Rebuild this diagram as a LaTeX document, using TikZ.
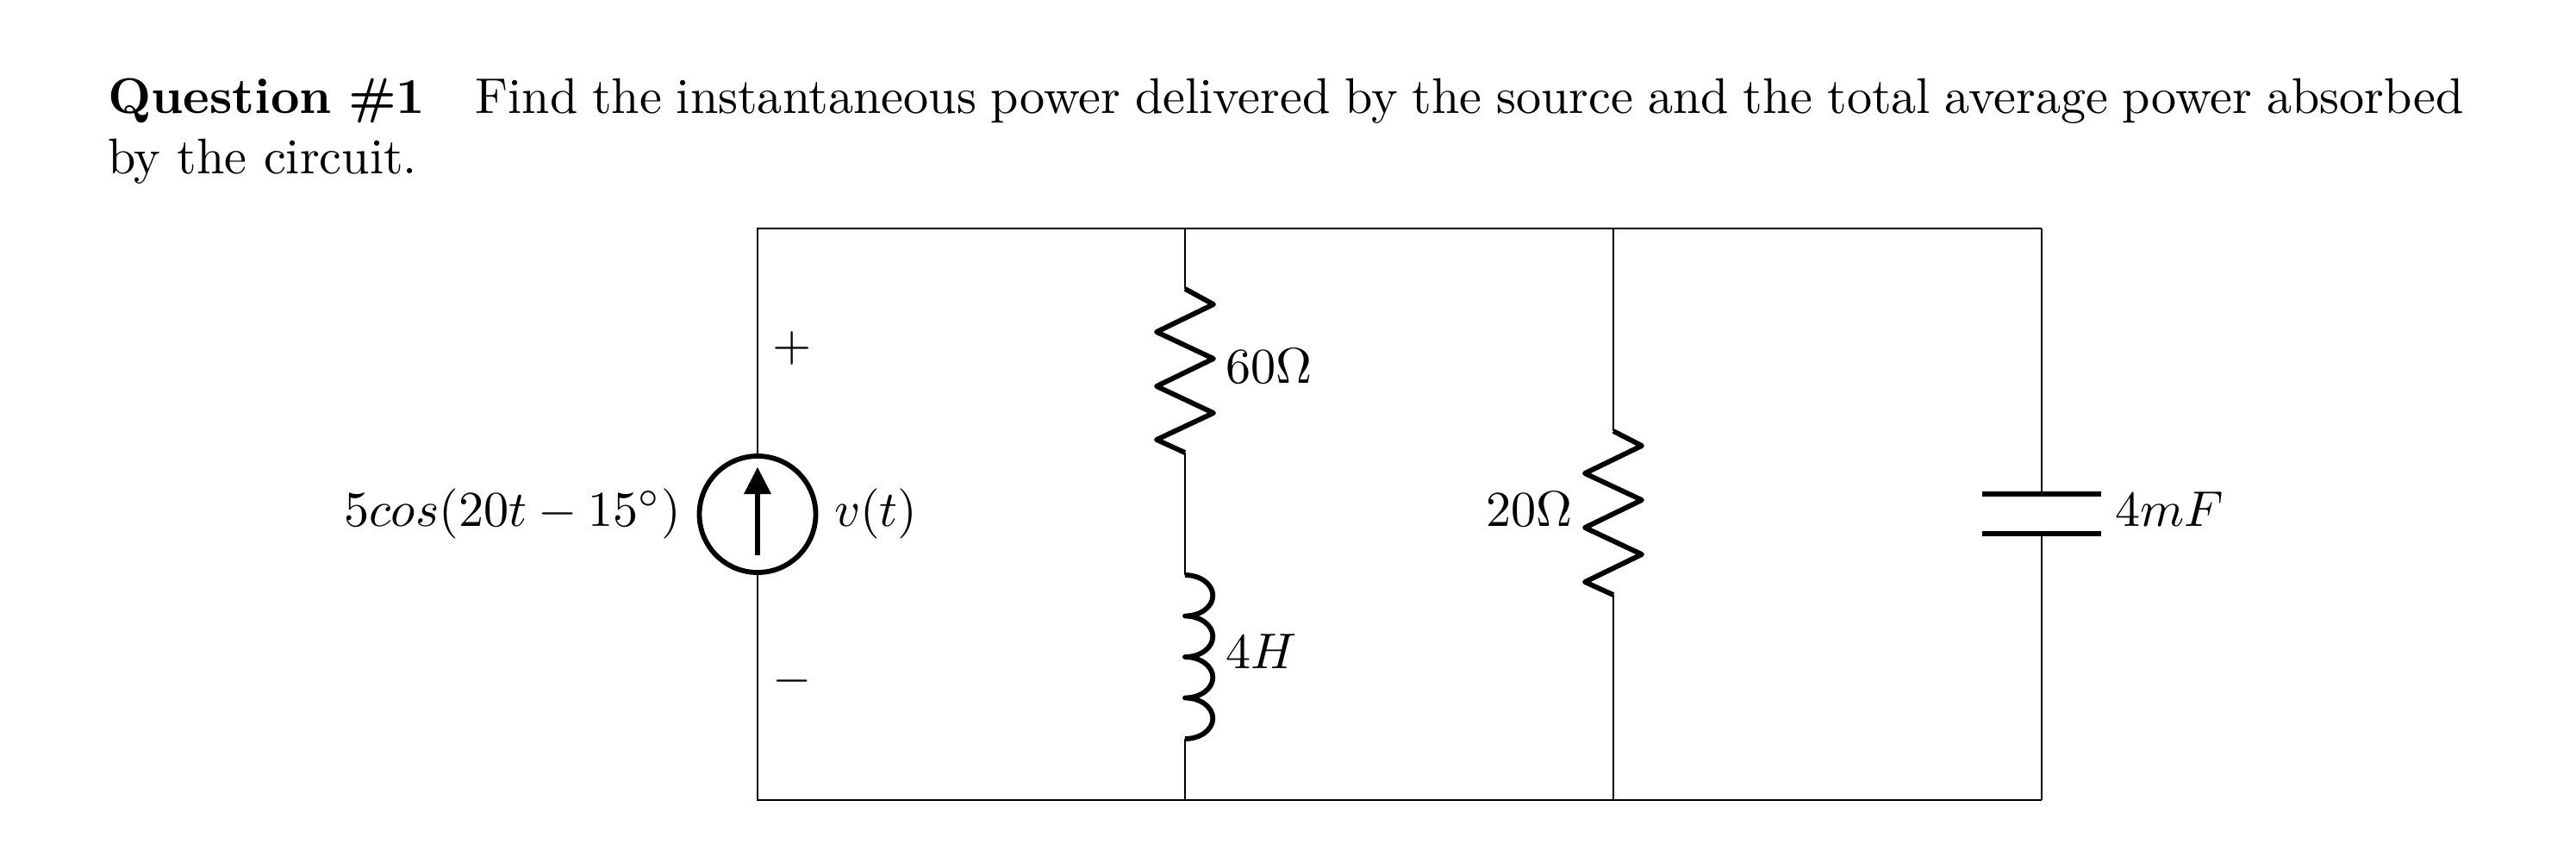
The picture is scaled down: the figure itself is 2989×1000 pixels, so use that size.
\documentclass[tikz,border=0pt]{standalone}
\tikzset{
  px/.style={x=0.17183pt,y=-0.17183pt},
  wire/.style={line width=0.4pt},
  part/.style={line width=1pt,line join=round},
  lab/.style={inner sep=0pt,outer sep=0pt,font=\fontsize{10}{12}\selectfont},
  para/.style={lab,anchor=north west,align=justify,text width=469.75pt},
  plate/.style={line width=0.95pt},
  srcbody/.style={circle,draw,line width=1pt,inner sep=0pt,minimum size=23.2pt},
  srcshaft/.style={line width=1pt}
}
\begin{document}
\begin{tikzpicture}[px]
\useasboundingbox (0,0) rectangle (2989,1000);
\node[para] (q) at (125,90.6) {\textbf{Question \#1}\quad Find the instantaneous power delivered by the source and the total average power absorbed by the circuit.};

% corners and junctions
\coordinate (tl) at (879,265);
\coordinate (ta) at (1375,265);
\coordinate (tb) at (1872,265);
\coordinate (tr) at (2369,265);
\coordinate (bl) at (879,928);
\coordinate (ba) at (1375,928);
\coordinate (bb) at (1872,928);
\coordinate (br) at (2369,928);

% source
\node[srcbody] (src) at (879,596.5) {};
\coordinate (arrowtail) at (879,644);
\coordinate (arrowbase) at (879,572);
\coordinate (arrowtip) at (879,542);
\draw[srcshaft] (arrowtail) -- (arrowbase);
\fill (arrowtip) -- ++(-16,31) -- ++(32,0) -- cycle;
\draw[wire] (src.north) -- (tl) -- (ta) -- (tb) -- (tr);
\draw[wire] (src.south) -- (bl) -- (ba) -- (bb) -- (br);

% 60 ohm
\coordinate (ra1) at (1375,335);
\coordinate (ra2) at (1375,525);
\draw[wire] (ta) -- (ra1);
\draw[part] (ra1) -- ++(33,18) -- ++(-66,32) -- ++(66,31) -- ++(-66,32) -- ++(66,31) -- ++(-66,31) -- (ra2);

% 4 H
\coordinate (la1) at (1375,667);
\coordinate (la2) at (1375,857);
\draw[wire] (ra2) -- (la1);
\draw[part] (la1)
  arc[start angle=90,end angle=-90,x radius=5.55pt,y radius=4.08pt]
  arc[start angle=90,end angle=-90,x radius=5.55pt,y radius=4.08pt]
  arc[start angle=90,end angle=-90,x radius=5.55pt,y radius=4.08pt]
  arc[start angle=90,end angle=-90,x radius=5.55pt,y radius=4.08pt];
\draw[wire] (la2) -- (ba);

% 20 ohm
\coordinate (rb1) at (1872,500);
\coordinate (rb2) at (1872,690);
\draw[wire] (tb) -- (rb1);
\draw[part] (rb1) -- ++(33,17) -- ++(-66,32) -- ++(66,31) -- ++(-66,32) -- ++(66,31) -- ++(-66,32) -- (rb2);
\draw[wire] (rb2) -- (bb);

% 4 mF
\coordinate (c1) at (2369,573);
\coordinate (c2) at (2369,619);
\coordinate (c1l) at (2300,573);
\coordinate (c1r) at (2438,573);
\coordinate (c2l) at (2300,619);
\coordinate (c2r) at (2438,619);
\draw[wire] (tr) -- (c1);
\draw[wire] (c2) -- (br);
\draw[plate] (c1l) -- (c1r);
\draw[plate] (c2l) -- (c2r);

% labels
\node[lab,anchor=base east] (srcl) at (790,610) {$5cos(20t-15^{\circ})$};
\node[lab,anchor=base west] (vt) at (968,610) {$v(t)$};
\node[lab] (plus) at (919,404) {$+$};
\node[lab] (minus) at (919,790) {$-$};
\node[lab,anchor=base west] (lra) at (1422,444) {$60\Omega$};
\node[lab,anchor=base west] (lla) at (1422,775) {$4H$};
\node[lab,anchor=base east] (lrb) at (1825,610) {$20\Omega$};
\node[lab,anchor=base west] (lc) at (2454,610) {$4mF$};
\end{tikzpicture}
\end{document}
